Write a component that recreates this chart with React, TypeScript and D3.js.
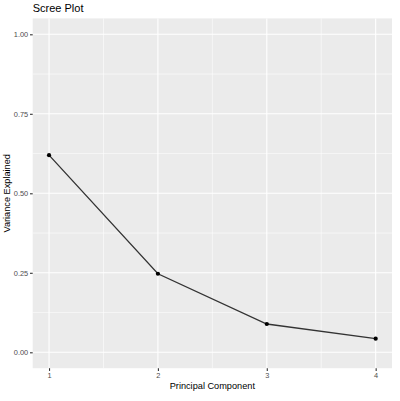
import { useRef, useEffect } from 'react';
import * as d3 from 'd3';

const components = [1, 2, 3, 4];
const variance = [0.62, 0.247, 0.089, 0.043];
const yTicks = [0, 0.25, 0.5, 0.75, 1];
const yMinor = [0.125, 0.375, 0.625, 0.875];
const xMinor = [1.5, 2.5, 3.5];

const width = 400;
const height = 401;
const margin = { top: 18.4, right: 8, bottom: 32.8, left: 32.7 };

const App = () => {
  const svgRef = useRef<SVGSVGElement>(null);

  useEffect(() => {
    const svg = d3.select(svgRef.current);
    svg.selectAll('*').remove();

    const x = d3.scaleLinear()
      .domain([0.85, 4.15])
      .range([margin.left, width - margin.right]);

    const y = d3.scaleLinear()
      .domain([-0.05, 1.05])
      .range([height - margin.bottom, margin.top]);

    // panel background
    svg.append('rect')
      .attr('x', x(0.85))
      .attr('y', y(1.05))
      .attr('width', x(4.15) - x(0.85))
      .attr('height', y(-0.05) - y(1.05))
      .attr('fill', '#EBEBEB');

    const grid = svg.append('g').attr('stroke', '#fff');

    grid.selectAll('.ymin').data(yMinor).enter().append('line')
      .attr('x1', x(0.85)).attr('x2', x(4.15))
      .attr('y1', d => y(d)).attr('y2', d => y(d))
      .attr('stroke-width', 0.55);

    grid.selectAll('.xmin').data(xMinor).enter().append('line')
      .attr('y1', y(-0.05)).attr('y2', y(1.05))
      .attr('x1', d => x(d)).attr('x2', d => x(d))
      .attr('stroke-width', 0.55);

    grid.selectAll('.ymaj').data(yTicks).enter().append('line')
      .attr('x1', x(0.85)).attr('x2', x(4.15))
      .attr('y1', d => y(d)).attr('y2', d => y(d))
      .attr('stroke-width', 1.1);

    grid.selectAll('.xmaj').data(components).enter().append('line')
      .attr('y1', y(-0.05)).attr('y2', y(1.05))
      .attr('x1', d => x(d)).attr('x2', d => x(d))
      .attr('stroke-width', 1.1);

    // axes
    const yAxis = svg.append('g')
      .attr('transform', `translate(${x(0.85)},0)`)
      .call(d3.axisLeft(y).tickValues(yTicks).tickFormat(d3.format('.2f')).tickSize(2.7).tickPadding(1.8));
    const xAxis = svg.append('g')
      .attr('transform', `translate(0,${y(-0.05)})`)
      .call(d3.axisBottom(x).tickValues(components).tickFormat(d3.format('d')).tickSize(2.7).tickPadding(1.8));

    [yAxis, xAxis].forEach(a => {
      a.select('.domain').remove();
      a.selectAll('.tick line').attr('stroke', '#333333').attr('stroke-width', 1.1);
      a.selectAll('.tick text')
        .attr('fill', '#4D4D4D')
        .attr('font-size', 7.4)
        .attr('font-family', 'Liberation Sans, Arial, sans-serif');
    });

    // line and points
    const pts = components.map((c, i) => ({ c, v: variance[i] }));
    const line = d3.line<{ c: number; v: number }>()
      .x(d => x(d.c))
      .y(d => y(d.v));

    svg.append('path')
      .datum(pts)
      .attr('d', line)
      .attr('fill', 'none')
      .attr('stroke', '#333')
      .attr('stroke-width', 1.3);

    svg.selectAll('.pt').data(pts).enter().append('circle')
      .attr('cx', d => x(d.c))
      .attr('cy', d => y(d.v))
      .attr('r', 2.1)
      .attr('fill', '#000');

    const font = 'Liberation Sans, Arial, sans-serif';

    svg.append('text')
      .attr('x', x(0.85))
      .attr('y', 11.5)
      .attr('font-size', 11)
      .attr('font-family', font)
      .attr('fill', '#000')
      .text('Scree Plot');

    svg.append('text')
      .attr('x', (x(0.85) + x(4.15)) / 2)
      .attr('y', 389)
      .attr('text-anchor', 'middle')
      .attr('font-size', 9.2)
      .attr('font-family', font)
      .attr('fill', '#000')
      .text('Principal Component');

    svg.append('text')
      .attr('transform', `translate(10,${(y(-0.05) + y(1.05)) / 2}) rotate(-90)`)
      .attr('text-anchor', 'middle')
      .attr('font-size', 9.2)
      .attr('font-family', font)
      .attr('fill', '#000')
      .text('Variance Explained');
  }, []);

  return (
    <svg
      ref={svgRef}
      width={width}
      height={height}
      style={{ position: 'absolute', left: 0, top: 0, background: '#fff' }}
    ></svg>
  );
};

export default App;
